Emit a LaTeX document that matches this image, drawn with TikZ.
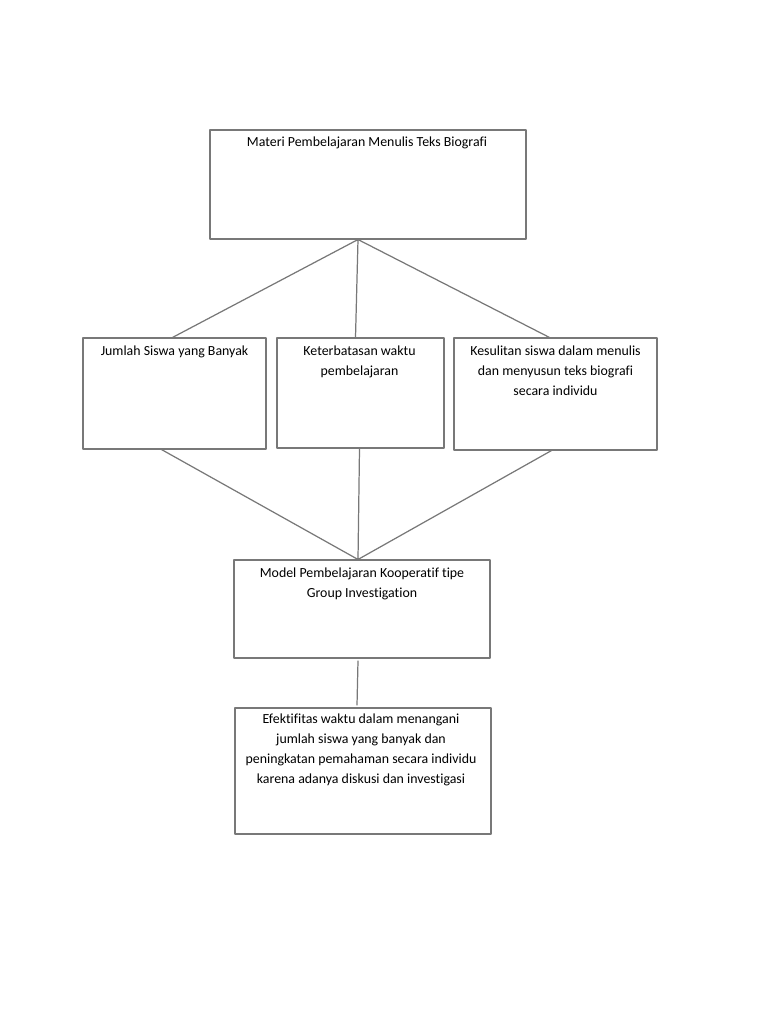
\documentclass[tikz,border=0pt]{standalone}
\usepackage{fontspec}
\setmainfont{Carlito}[Ligatures=NoCommon]
\usetikzlibrary{calc}
\tikzset{
  kotak/.style={draw=garis,line width=0.6pt,minimum width=#1,inner sep=0pt},
  isi/.style={anchor=north,inner sep=0pt,align=center,font=\fontsize{7.9}{11.3}\selectfont}
}
\definecolor{garis}{RGB}{120,120,120}
\begin{document}
\begin{tikzpicture}[x=0.02cm,y=-0.02cm,line join=round]
				\useasboundingbox (0,0) rectangle (768,1024);
				\path
				(368,184.5) node[kotak=316*0.02cm,minimum height=109*0.02cm] (materi) {}
				(174.5,393.5) node[kotak=183*0.02cm,minimum height=111*0.02cm] (jumlah) {}
				(360.5,393) node[kotak=167*0.02cm,minimum height=110*0.02cm] (waktu) {}
				(555.5,394) node[kotak=203*0.02cm,minimum height=112*0.02cm] (sulit) {}
				(362,609) node[kotak=256*0.02cm,minimum height=98*0.02cm] (model) {}
				(363,771) node[kotak=256*0.02cm,minimum height=126*0.02cm] (efek) {}
				;
				\node[isi] at ($(materi.north)+(-1,7)$) {Materi Pembelajaran Menulis Teks Biografi};
				\node[isi] at ($(jumlah.north)+(0,8)$) {Jumlah Siswa yang Banyak};
				\node[isi] at ($(waktu.north)+(-1,8)$) {Keterbatasan waktu\\pembelajaran};
				\node[isi] at ($(sulit.north)+(0,8)$) {Kesulitan siswa dalam menulis\\dan menyusun teks biografi\\secara individu};
				\node[isi] at ($(model.north)+(0,8)$) {Model Pembelajaran Kooperatif tipe\\Group Investigation};
				\node[isi] at ($(efek.north)+(-2,6)$) {Efektifitas waktu dalam menangani\\jumlah siswa yang banyak dan\\peningkatan pemahaman secara individu\\karena adanya diskusi dan investigasi};
				\path
				($(materi.south)+(-10,0)$) coordinate (M)
				($(jumlah.north)+(-2,0)$) coordinate (J_1)
				($(waktu.north)+(-5,0)$) coordinate (W_1)
				($(sulit.north)+(-6,0)$) coordinate (S_1)
				($(jumlah.south)+(-13,0)$) coordinate (J_2)
				($(waktu.south)+(-1,0)$) coordinate (W_2)
				($(sulit.south)+(-4,0)$) coordinate (S_2)
				($(model.north)+(-4,0)$) coordinate (P_1)
				($(model.south)+(-4,2)$) coordinate (P_2)
				($(efek.north)+(-6,-2)$) coordinate (E)
				;
				\draw[garis,line width=0.7pt]
				(M)--(J_1) (M)--(W_1) (M)--(S_1)
				(J_2)--(P_1) (W_2)--(P_1) (S_2)--(P_1)
				(P_2)--(E)
				;
			\end{tikzpicture}
\end{document}
